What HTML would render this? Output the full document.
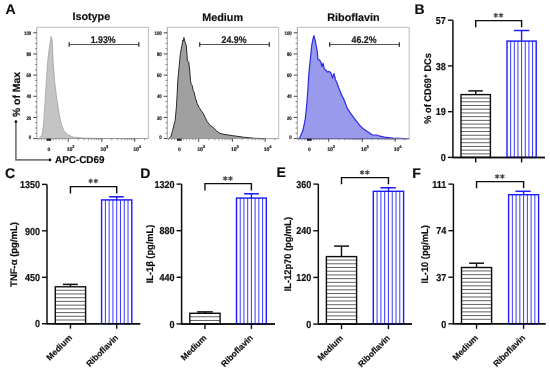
<!DOCTYPE html>
<html><head><meta charset="utf-8"><style>
html,body{margin:0;padding:0;background:#fff;}
svg{display:block;}
text{font-family:"Liberation Sans",sans-serif;font-weight:bold;stroke:#111;stroke-width:0.18px;text-rendering:geometricPrecision;}
svg{will-change:transform;}
</style></head><body>
<svg width="550" height="372" viewBox="0 0 550 372">
<defs><filter id="bl" x="0" y="0" width="100%" height="100%"><feGaussianBlur stdDeviation="0.4"/></filter></defs>
<rect width="550" height="372" fill="#fff"/>
<g filter="url(#bl)">
<text x="5.60" y="14.20" font-size="14" text-anchor="start" fill="#111" >A</text>
<text x="414.50" y="14.20" font-size="14" text-anchor="start" fill="#111" >B</text>
<text x="5.00" y="177.60" font-size="14" text-anchor="start" fill="#111" >C</text>
<text x="140.30" y="177.50" font-size="14" text-anchor="start" fill="#111" >D</text>
<text x="276.60" y="176.70" font-size="14" text-anchor="start" fill="#111" >E</text>
<text x="412.30" y="177.50" font-size="14" text-anchor="start" fill="#111" >F</text>
<text x="91.30" y="19.90" font-size="10.8" text-anchor="middle" fill="#111" >Isotype</text>
<path d="M38.4,138.6 L40.0,137.5 L42.0,135.0 L43.5,124.5 L45.0,103.0 L46.3,81.5 L47.8,60.0 L49.0,50.0 L50.0,43.0 L51.0,36.4 L52.2,40.0 L52.7,48.0 L53.0,60.0 L54.7,81.5 L56.0,93.0 L57.5,103.0 L59.2,113.8 L61.4,124.5 L64.0,131.0 L68.3,135.0 L73.6,137.2 L85.0,138.1 L100.0,138.4 L120.0,138.5 L140.0,138.6 Z" fill="#c4c4c4" stroke="none"/>
<path d="M38.4,138.6 L40.0,137.5 L42.0,135.0 L43.5,124.5 L45.0,103.0 L46.3,81.5 L47.8,60.0 L49.0,50.0 L50.0,43.0 L51.0,36.4 L52.2,40.0 L52.7,48.0 L53.0,60.0 L54.7,81.5 L56.0,93.0 L57.5,103.0 L59.2,113.8 L61.4,124.5 L64.0,131.0 L68.3,135.0 L73.6,137.2 L85.0,138.1 L100.0,138.4 L120.0,138.5 L140.0,138.6" fill="none" stroke="#9a9a9a" stroke-width="0.7" stroke-linejoin="round"/>
<polyline points="36.8,27.3 148.4,27.3 148.4,138.6" fill="none" stroke="#b4b4b4" stroke-width="0.9"/>
<line x1="36.8" y1="27.3" x2="36.8" y2="138.6" stroke="#8a8a8a" stroke-width="0.8"/>
<line x1="36.3" y1="138.6" x2="148.4" y2="138.6" stroke="#8a8a8a" stroke-width="0.8"/>
<line x1="33.199999999999996" y1="138.60" x2="36.8" y2="138.60" stroke="#333" stroke-width="0.9"/>
<text x="0.00" y="0.00" font-size="5.1" text-anchor="end" fill="#222" transform="translate(31.30,138.90) scale(0.86,1)">0</text>
<line x1="35.0" y1="133.31" x2="36.8" y2="133.31" stroke="#555" stroke-width="0.7"/>
<line x1="35.0" y1="128.02" x2="36.8" y2="128.02" stroke="#555" stroke-width="0.7"/>
<line x1="35.0" y1="122.73" x2="36.8" y2="122.73" stroke="#555" stroke-width="0.7"/>
<line x1="33.199999999999996" y1="117.44" x2="36.8" y2="117.44" stroke="#333" stroke-width="0.9"/>
<text x="0.00" y="0.00" font-size="5.1" text-anchor="end" fill="#222" transform="translate(31.30,119.54) scale(0.86,1)">20</text>
<line x1="35.0" y1="112.15" x2="36.8" y2="112.15" stroke="#555" stroke-width="0.7"/>
<line x1="35.0" y1="106.86" x2="36.8" y2="106.86" stroke="#555" stroke-width="0.7"/>
<line x1="35.0" y1="101.57" x2="36.8" y2="101.57" stroke="#555" stroke-width="0.7"/>
<line x1="33.199999999999996" y1="96.28" x2="36.8" y2="96.28" stroke="#333" stroke-width="0.9"/>
<text x="0.00" y="0.00" font-size="5.1" text-anchor="end" fill="#222" transform="translate(31.30,98.38) scale(0.86,1)">40</text>
<line x1="35.0" y1="90.99" x2="36.8" y2="90.99" stroke="#555" stroke-width="0.7"/>
<line x1="35.0" y1="85.70" x2="36.8" y2="85.70" stroke="#555" stroke-width="0.7"/>
<line x1="35.0" y1="80.41" x2="36.8" y2="80.41" stroke="#555" stroke-width="0.7"/>
<line x1="33.199999999999996" y1="75.12" x2="36.8" y2="75.12" stroke="#333" stroke-width="0.9"/>
<text x="0.00" y="0.00" font-size="5.1" text-anchor="end" fill="#222" transform="translate(31.30,77.22) scale(0.86,1)">60</text>
<line x1="35.0" y1="69.83" x2="36.8" y2="69.83" stroke="#555" stroke-width="0.7"/>
<line x1="35.0" y1="64.54" x2="36.8" y2="64.54" stroke="#555" stroke-width="0.7"/>
<line x1="35.0" y1="59.25" x2="36.8" y2="59.25" stroke="#555" stroke-width="0.7"/>
<line x1="33.199999999999996" y1="53.96" x2="36.8" y2="53.96" stroke="#333" stroke-width="0.9"/>
<text x="0.00" y="0.00" font-size="5.1" text-anchor="end" fill="#222" transform="translate(31.30,56.06) scale(0.86,1)">80</text>
<line x1="35.0" y1="48.67" x2="36.8" y2="48.67" stroke="#555" stroke-width="0.7"/>
<line x1="35.0" y1="43.38" x2="36.8" y2="43.38" stroke="#555" stroke-width="0.7"/>
<line x1="35.0" y1="38.09" x2="36.8" y2="38.09" stroke="#555" stroke-width="0.7"/>
<line x1="33.199999999999996" y1="32.80" x2="36.8" y2="32.80" stroke="#333" stroke-width="0.9"/>
<text x="0.00" y="0.00" font-size="5.1" text-anchor="end" fill="#222" transform="translate(31.30,34.90) scale(0.86,1)">100</text>
<line x1="68.20" y1="138.6" x2="68.20" y2="141.79999999999998" stroke="#333" stroke-width="0.9"/>
<line x1="101.90" y1="138.6" x2="101.90" y2="141.79999999999998" stroke="#333" stroke-width="0.9"/>
<line x1="134.70" y1="138.6" x2="134.70" y2="141.79999999999998" stroke="#333" stroke-width="0.9"/>
<line x1="78.34" y1="138.6" x2="78.34" y2="140.2" stroke="#555" stroke-width="0.6"/>
<line x1="84.28" y1="138.6" x2="84.28" y2="140.2" stroke="#555" stroke-width="0.6"/>
<line x1="88.49" y1="138.6" x2="88.49" y2="140.2" stroke="#555" stroke-width="0.6"/>
<line x1="91.76" y1="138.6" x2="91.76" y2="140.2" stroke="#555" stroke-width="0.6"/>
<line x1="94.42" y1="138.6" x2="94.42" y2="140.2" stroke="#555" stroke-width="0.6"/>
<line x1="96.68" y1="138.6" x2="96.68" y2="140.2" stroke="#555" stroke-width="0.6"/>
<line x1="98.63" y1="138.6" x2="98.63" y2="140.2" stroke="#555" stroke-width="0.6"/>
<line x1="100.36" y1="138.6" x2="100.36" y2="140.2" stroke="#555" stroke-width="0.6"/>
<line x1="111.77" y1="138.6" x2="111.77" y2="140.2" stroke="#555" stroke-width="0.6"/>
<line x1="117.55" y1="138.6" x2="117.55" y2="140.2" stroke="#555" stroke-width="0.6"/>
<line x1="121.65" y1="138.6" x2="121.65" y2="140.2" stroke="#555" stroke-width="0.6"/>
<line x1="124.83" y1="138.6" x2="124.83" y2="140.2" stroke="#555" stroke-width="0.6"/>
<line x1="127.42" y1="138.6" x2="127.42" y2="140.2" stroke="#555" stroke-width="0.6"/>
<line x1="129.62" y1="138.6" x2="129.62" y2="140.2" stroke="#555" stroke-width="0.6"/>
<line x1="131.52" y1="138.6" x2="131.52" y2="140.2" stroke="#555" stroke-width="0.6"/>
<line x1="133.20" y1="138.6" x2="133.20" y2="140.2" stroke="#555" stroke-width="0.6"/>
<line x1="144.57" y1="138.6" x2="144.57" y2="140.2" stroke="#555" stroke-width="0.6"/>
<line x1="38.20" y1="138.6" x2="38.20" y2="140.2" stroke="#555" stroke-width="0.6"/>
<line x1="41.40" y1="138.6" x2="41.40" y2="140.2" stroke="#555" stroke-width="0.6"/>
<line x1="44.20" y1="138.6" x2="44.20" y2="140.2" stroke="#555" stroke-width="0.6"/>
<line x1="53.20" y1="138.6" x2="53.20" y2="140.2" stroke="#555" stroke-width="0.6"/>
<line x1="56.00" y1="138.6" x2="56.00" y2="140.2" stroke="#555" stroke-width="0.6"/>
<line x1="59.20" y1="138.6" x2="59.20" y2="140.2" stroke="#555" stroke-width="0.6"/>
<line x1="62.40" y1="138.6" x2="62.40" y2="140.2" stroke="#555" stroke-width="0.6"/>
<line x1="65.20" y1="138.6" x2="65.20" y2="140.2" stroke="#555" stroke-width="0.6"/>
<rect x="46.40" y="138.6" width="4.8" height="2.2" fill="#222"/>
<text x="49.00" y="151.00" font-size="5" text-anchor="middle" fill="#222" >0</text>
<text x="69.60" y="151.00" font-size="5.2" text-anchor="middle" fill="#222" >10</text>
<text x="72.30" y="148.20" font-size="4.0" text-anchor="start" fill="#222" >2</text>
<text x="103.30" y="151.00" font-size="5.2" text-anchor="middle" fill="#222" >10</text>
<text x="106.00" y="148.20" font-size="4.0" text-anchor="start" fill="#222" >3</text>
<text x="136.10" y="151.00" font-size="5.2" text-anchor="middle" fill="#222" >10</text>
<text x="138.80" y="148.20" font-size="4.0" text-anchor="start" fill="#222" >4</text>
<line x1="69.20" y1="44.5" x2="138.80" y2="44.5" stroke="#555" stroke-width="1.15"/>
<line x1="69.20" y1="42.3" x2="69.20" y2="46.7" stroke="#333" stroke-width="1.3"/>
<line x1="138.80" y1="42.3" x2="138.80" y2="46.7" stroke="#333" stroke-width="1.3"/>
<text x="0.00" y="0.00" font-size="9.8" text-anchor="middle" fill="#222" transform="translate(103.20,42.9) scale(0.9,1)">1.93%</text>
<text x="222.60" y="20.90" font-size="10.8" text-anchor="middle" fill="#111" >Medium</text>
<path d="M169.0,138.6 L170.9,136.3 L172.4,131.4 L175.1,120.6 L176.4,107.2 L177.2,93.8 L177.8,80.3 L179.1,66.9 L180.4,53.4 L182.0,45.0 L182.9,40.0 L183.4,41.0 L183.9,37.5 L185.0,42.0 L186.3,45.5 L187.0,55.0 L187.4,61.0 L188.8,62.0 L189.0,65.0 L189.7,70.1 L190.5,80.2 L191.1,84.2 L192.1,85.2 L193.1,90.2 L194.1,92.3 L195.5,98.3 L197.1,103.3 L199.1,107.4 L201.1,110.4 L203.2,113.4 L205.2,117.5 L207.2,121.5 L210.2,125.5 L213.2,127.5 L216.3,130.6 L219.3,133.0 L223.0,134.2 L232.5,135.6 L243.4,137.2 L254.3,138.3 L265.0,138.6 Z" fill="#a0a0a0" stroke="none"/>
<path d="M169.0,138.6 L170.9,136.3 L172.4,131.4 L175.1,120.6 L176.4,107.2 L177.2,93.8 L177.8,80.3 L179.1,66.9 L180.4,53.4 L182.0,45.0 L182.9,40.0 L183.4,41.0 L183.9,37.5 L185.0,42.0 L186.3,45.5 L187.0,55.0 L187.4,61.0 L188.8,62.0 L189.0,65.0 L189.7,70.1 L190.5,80.2 L191.1,84.2 L192.1,85.2 L193.1,90.2 L194.1,92.3 L195.5,98.3 L197.1,103.3 L199.1,107.4 L201.1,110.4 L203.2,113.4 L205.2,117.5 L207.2,121.5 L210.2,125.5 L213.2,127.5 L216.3,130.6 L219.3,133.0 L223.0,134.2 L232.5,135.6 L243.4,137.2 L254.3,138.3 L265.0,138.6" fill="none" stroke="#2a2a2a" stroke-width="1.0" stroke-linejoin="round"/>
<polyline points="167.3,27.3 278.7,27.3 278.7,138.6" fill="none" stroke="#b4b4b4" stroke-width="0.9"/>
<line x1="167.3" y1="27.3" x2="167.3" y2="138.6" stroke="#8a8a8a" stroke-width="0.8"/>
<line x1="166.8" y1="138.6" x2="278.7" y2="138.6" stroke="#8a8a8a" stroke-width="0.8"/>
<line x1="163.70000000000002" y1="138.60" x2="167.3" y2="138.60" stroke="#333" stroke-width="0.9"/>
<text x="0.00" y="0.00" font-size="5.1" text-anchor="end" fill="#222" transform="translate(161.80,138.90) scale(0.86,1)">0</text>
<line x1="165.5" y1="133.31" x2="167.3" y2="133.31" stroke="#555" stroke-width="0.7"/>
<line x1="165.5" y1="128.02" x2="167.3" y2="128.02" stroke="#555" stroke-width="0.7"/>
<line x1="165.5" y1="122.73" x2="167.3" y2="122.73" stroke="#555" stroke-width="0.7"/>
<line x1="163.70000000000002" y1="117.44" x2="167.3" y2="117.44" stroke="#333" stroke-width="0.9"/>
<text x="0.00" y="0.00" font-size="5.1" text-anchor="end" fill="#222" transform="translate(161.80,119.54) scale(0.86,1)">20</text>
<line x1="165.5" y1="112.15" x2="167.3" y2="112.15" stroke="#555" stroke-width="0.7"/>
<line x1="165.5" y1="106.86" x2="167.3" y2="106.86" stroke="#555" stroke-width="0.7"/>
<line x1="165.5" y1="101.57" x2="167.3" y2="101.57" stroke="#555" stroke-width="0.7"/>
<line x1="163.70000000000002" y1="96.28" x2="167.3" y2="96.28" stroke="#333" stroke-width="0.9"/>
<text x="0.00" y="0.00" font-size="5.1" text-anchor="end" fill="#222" transform="translate(161.80,98.38) scale(0.86,1)">40</text>
<line x1="165.5" y1="90.99" x2="167.3" y2="90.99" stroke="#555" stroke-width="0.7"/>
<line x1="165.5" y1="85.70" x2="167.3" y2="85.70" stroke="#555" stroke-width="0.7"/>
<line x1="165.5" y1="80.41" x2="167.3" y2="80.41" stroke="#555" stroke-width="0.7"/>
<line x1="163.70000000000002" y1="75.12" x2="167.3" y2="75.12" stroke="#333" stroke-width="0.9"/>
<text x="0.00" y="0.00" font-size="5.1" text-anchor="end" fill="#222" transform="translate(161.80,77.22) scale(0.86,1)">60</text>
<line x1="165.5" y1="69.83" x2="167.3" y2="69.83" stroke="#555" stroke-width="0.7"/>
<line x1="165.5" y1="64.54" x2="167.3" y2="64.54" stroke="#555" stroke-width="0.7"/>
<line x1="165.5" y1="59.25" x2="167.3" y2="59.25" stroke="#555" stroke-width="0.7"/>
<line x1="163.70000000000002" y1="53.96" x2="167.3" y2="53.96" stroke="#333" stroke-width="0.9"/>
<text x="0.00" y="0.00" font-size="5.1" text-anchor="end" fill="#222" transform="translate(161.80,56.06) scale(0.86,1)">80</text>
<line x1="165.5" y1="48.67" x2="167.3" y2="48.67" stroke="#555" stroke-width="0.7"/>
<line x1="165.5" y1="43.38" x2="167.3" y2="43.38" stroke="#555" stroke-width="0.7"/>
<line x1="165.5" y1="38.09" x2="167.3" y2="38.09" stroke="#555" stroke-width="0.7"/>
<line x1="163.70000000000002" y1="32.80" x2="167.3" y2="32.80" stroke="#333" stroke-width="0.9"/>
<text x="0.00" y="0.00" font-size="5.1" text-anchor="end" fill="#222" transform="translate(161.80,34.90) scale(0.86,1)">100</text>
<line x1="198.70" y1="138.6" x2="198.70" y2="141.79999999999998" stroke="#333" stroke-width="0.9"/>
<line x1="232.40" y1="138.6" x2="232.40" y2="141.79999999999998" stroke="#333" stroke-width="0.9"/>
<line x1="265.20" y1="138.6" x2="265.20" y2="141.79999999999998" stroke="#333" stroke-width="0.9"/>
<line x1="208.84" y1="138.6" x2="208.84" y2="140.2" stroke="#555" stroke-width="0.6"/>
<line x1="214.78" y1="138.6" x2="214.78" y2="140.2" stroke="#555" stroke-width="0.6"/>
<line x1="218.99" y1="138.6" x2="218.99" y2="140.2" stroke="#555" stroke-width="0.6"/>
<line x1="222.26" y1="138.6" x2="222.26" y2="140.2" stroke="#555" stroke-width="0.6"/>
<line x1="224.92" y1="138.6" x2="224.92" y2="140.2" stroke="#555" stroke-width="0.6"/>
<line x1="227.18" y1="138.6" x2="227.18" y2="140.2" stroke="#555" stroke-width="0.6"/>
<line x1="229.13" y1="138.6" x2="229.13" y2="140.2" stroke="#555" stroke-width="0.6"/>
<line x1="230.86" y1="138.6" x2="230.86" y2="140.2" stroke="#555" stroke-width="0.6"/>
<line x1="242.27" y1="138.6" x2="242.27" y2="140.2" stroke="#555" stroke-width="0.6"/>
<line x1="248.05" y1="138.6" x2="248.05" y2="140.2" stroke="#555" stroke-width="0.6"/>
<line x1="252.15" y1="138.6" x2="252.15" y2="140.2" stroke="#555" stroke-width="0.6"/>
<line x1="255.33" y1="138.6" x2="255.33" y2="140.2" stroke="#555" stroke-width="0.6"/>
<line x1="257.92" y1="138.6" x2="257.92" y2="140.2" stroke="#555" stroke-width="0.6"/>
<line x1="260.12" y1="138.6" x2="260.12" y2="140.2" stroke="#555" stroke-width="0.6"/>
<line x1="262.02" y1="138.6" x2="262.02" y2="140.2" stroke="#555" stroke-width="0.6"/>
<line x1="263.70" y1="138.6" x2="263.70" y2="140.2" stroke="#555" stroke-width="0.6"/>
<line x1="275.07" y1="138.6" x2="275.07" y2="140.2" stroke="#555" stroke-width="0.6"/>
<line x1="168.70" y1="138.6" x2="168.70" y2="140.2" stroke="#555" stroke-width="0.6"/>
<line x1="171.90" y1="138.6" x2="171.90" y2="140.2" stroke="#555" stroke-width="0.6"/>
<line x1="174.70" y1="138.6" x2="174.70" y2="140.2" stroke="#555" stroke-width="0.6"/>
<line x1="183.70" y1="138.6" x2="183.70" y2="140.2" stroke="#555" stroke-width="0.6"/>
<line x1="186.50" y1="138.6" x2="186.50" y2="140.2" stroke="#555" stroke-width="0.6"/>
<line x1="189.70" y1="138.6" x2="189.70" y2="140.2" stroke="#555" stroke-width="0.6"/>
<line x1="192.90" y1="138.6" x2="192.90" y2="140.2" stroke="#555" stroke-width="0.6"/>
<line x1="195.70" y1="138.6" x2="195.70" y2="140.2" stroke="#555" stroke-width="0.6"/>
<rect x="176.90" y="138.6" width="4.8" height="2.2" fill="#222"/>
<text x="179.50" y="151.00" font-size="5" text-anchor="middle" fill="#222" >0</text>
<text x="200.10" y="151.00" font-size="5.2" text-anchor="middle" fill="#222" >10</text>
<text x="202.80" y="148.20" font-size="4.0" text-anchor="start" fill="#222" >2</text>
<text x="233.80" y="151.00" font-size="5.2" text-anchor="middle" fill="#222" >10</text>
<text x="236.50" y="148.20" font-size="4.0" text-anchor="start" fill="#222" >3</text>
<text x="266.60" y="151.00" font-size="5.2" text-anchor="middle" fill="#222" >10</text>
<text x="269.30" y="148.20" font-size="4.0" text-anchor="start" fill="#222" >4</text>
<line x1="199.70" y1="44.5" x2="269.30" y2="44.5" stroke="#555" stroke-width="1.15"/>
<line x1="199.70" y1="42.3" x2="199.70" y2="46.7" stroke="#333" stroke-width="1.3"/>
<line x1="269.30" y1="42.3" x2="269.30" y2="46.7" stroke="#333" stroke-width="1.3"/>
<text x="0.00" y="0.00" font-size="9.8" text-anchor="middle" fill="#222" transform="translate(234.00,42.9) scale(0.9,1)">24.9%</text>
<text x="353.40" y="20.90" font-size="10.8" text-anchor="middle" fill="#111" >Riboflavin</text>
<path d="M299.0,138.6 L300.3,136.5 L302.9,130.6 L305.3,118.8 L306.8,104.0 L307.9,89.2 L308.8,74.4 L310.3,59.6 L311.8,44.8 L313.0,39.0 L313.9,35.6 L315.3,41.0 L316.3,46.3 L317.2,51.2 L317.9,59.3 L319.6,60.1 L321.0,62.5 L322.0,66.5 L323.1,63.3 L324.2,68.7 L326.0,70.5 L327.6,72.2 L329.3,71.4 L330.9,73.0 L332.5,78.0 L334.0,73.5 L335.4,79.5 L336.8,82.5 L338.6,87.5 L340.2,91.5 L341.6,95.1 L343.0,97.5 L344.5,101.0 L347.3,108.4 L350.3,112.8 L354.7,118.8 L359.1,124.7 L363.6,129.1 L368.0,132.1 L372.4,135.0 L376.9,135.0 L380.0,136.2 L384.3,137.2 L393.0,138.2 L406.0,138.6 Z" fill="#9a9aec" stroke="none"/>
<path d="M299.0,138.6 L300.3,136.5 L302.9,130.6 L305.3,118.8 L306.8,104.0 L307.9,89.2 L308.8,74.4 L310.3,59.6 L311.8,44.8 L313.0,39.0 L313.9,35.6 L315.3,41.0 L316.3,46.3 L317.2,51.2 L317.9,59.3 L319.6,60.1 L321.0,62.5 L322.0,66.5 L323.1,63.3 L324.2,68.7 L326.0,70.5 L327.6,72.2 L329.3,71.4 L330.9,73.0 L332.5,78.0 L334.0,73.5 L335.4,79.5 L336.8,82.5 L338.6,87.5 L340.2,91.5 L341.6,95.1 L343.0,97.5 L344.5,101.0 L347.3,108.4 L350.3,112.8 L354.7,118.8 L359.1,124.7 L363.6,129.1 L368.0,132.1 L372.4,135.0 L376.9,135.0 L380.0,136.2 L384.3,137.2 L393.0,138.2 L406.0,138.6" fill="none" stroke="#2a2ae6" stroke-width="1.2" stroke-linejoin="round"/>
<line x1="297.3" y1="138.6" x2="409.2" y2="138.6" stroke="#2a2ae6" stroke-width="1.1"/>
<polyline points="297.3,27.3 409.2,27.3 409.2,138.6" fill="none" stroke="#b4b4b4" stroke-width="0.9"/>
<line x1="297.3" y1="27.3" x2="297.3" y2="138.6" stroke="#8a8a8a" stroke-width="0.8"/>
<line x1="296.8" y1="138.6" x2="409.2" y2="138.6" stroke="#8a8a8a" stroke-width="0.8"/>
<line x1="293.7" y1="138.60" x2="297.3" y2="138.60" stroke="#333" stroke-width="0.9"/>
<text x="0.00" y="0.00" font-size="5.1" text-anchor="end" fill="#222" transform="translate(291.80,138.90) scale(0.86,1)">0</text>
<line x1="295.5" y1="133.31" x2="297.3" y2="133.31" stroke="#555" stroke-width="0.7"/>
<line x1="295.5" y1="128.02" x2="297.3" y2="128.02" stroke="#555" stroke-width="0.7"/>
<line x1="295.5" y1="122.73" x2="297.3" y2="122.73" stroke="#555" stroke-width="0.7"/>
<line x1="293.7" y1="117.44" x2="297.3" y2="117.44" stroke="#333" stroke-width="0.9"/>
<text x="0.00" y="0.00" font-size="5.1" text-anchor="end" fill="#222" transform="translate(291.80,119.54) scale(0.86,1)">20</text>
<line x1="295.5" y1="112.15" x2="297.3" y2="112.15" stroke="#555" stroke-width="0.7"/>
<line x1="295.5" y1="106.86" x2="297.3" y2="106.86" stroke="#555" stroke-width="0.7"/>
<line x1="295.5" y1="101.57" x2="297.3" y2="101.57" stroke="#555" stroke-width="0.7"/>
<line x1="293.7" y1="96.28" x2="297.3" y2="96.28" stroke="#333" stroke-width="0.9"/>
<text x="0.00" y="0.00" font-size="5.1" text-anchor="end" fill="#222" transform="translate(291.80,98.38) scale(0.86,1)">40</text>
<line x1="295.5" y1="90.99" x2="297.3" y2="90.99" stroke="#555" stroke-width="0.7"/>
<line x1="295.5" y1="85.70" x2="297.3" y2="85.70" stroke="#555" stroke-width="0.7"/>
<line x1="295.5" y1="80.41" x2="297.3" y2="80.41" stroke="#555" stroke-width="0.7"/>
<line x1="293.7" y1="75.12" x2="297.3" y2="75.12" stroke="#333" stroke-width="0.9"/>
<text x="0.00" y="0.00" font-size="5.1" text-anchor="end" fill="#222" transform="translate(291.80,77.22) scale(0.86,1)">60</text>
<line x1="295.5" y1="69.83" x2="297.3" y2="69.83" stroke="#555" stroke-width="0.7"/>
<line x1="295.5" y1="64.54" x2="297.3" y2="64.54" stroke="#555" stroke-width="0.7"/>
<line x1="295.5" y1="59.25" x2="297.3" y2="59.25" stroke="#555" stroke-width="0.7"/>
<line x1="293.7" y1="53.96" x2="297.3" y2="53.96" stroke="#333" stroke-width="0.9"/>
<text x="0.00" y="0.00" font-size="5.1" text-anchor="end" fill="#222" transform="translate(291.80,56.06) scale(0.86,1)">80</text>
<line x1="295.5" y1="48.67" x2="297.3" y2="48.67" stroke="#555" stroke-width="0.7"/>
<line x1="295.5" y1="43.38" x2="297.3" y2="43.38" stroke="#555" stroke-width="0.7"/>
<line x1="295.5" y1="38.09" x2="297.3" y2="38.09" stroke="#555" stroke-width="0.7"/>
<line x1="293.7" y1="32.80" x2="297.3" y2="32.80" stroke="#333" stroke-width="0.9"/>
<text x="0.00" y="0.00" font-size="5.1" text-anchor="end" fill="#222" transform="translate(291.80,34.90) scale(0.86,1)">100</text>
<line x1="328.70" y1="138.6" x2="328.70" y2="141.79999999999998" stroke="#333" stroke-width="0.9"/>
<line x1="362.40" y1="138.6" x2="362.40" y2="141.79999999999998" stroke="#333" stroke-width="0.9"/>
<line x1="395.20" y1="138.6" x2="395.20" y2="141.79999999999998" stroke="#333" stroke-width="0.9"/>
<line x1="338.84" y1="138.6" x2="338.84" y2="140.2" stroke="#555" stroke-width="0.6"/>
<line x1="344.78" y1="138.6" x2="344.78" y2="140.2" stroke="#555" stroke-width="0.6"/>
<line x1="348.99" y1="138.6" x2="348.99" y2="140.2" stroke="#555" stroke-width="0.6"/>
<line x1="352.26" y1="138.6" x2="352.26" y2="140.2" stroke="#555" stroke-width="0.6"/>
<line x1="354.92" y1="138.6" x2="354.92" y2="140.2" stroke="#555" stroke-width="0.6"/>
<line x1="357.18" y1="138.6" x2="357.18" y2="140.2" stroke="#555" stroke-width="0.6"/>
<line x1="359.13" y1="138.6" x2="359.13" y2="140.2" stroke="#555" stroke-width="0.6"/>
<line x1="360.86" y1="138.6" x2="360.86" y2="140.2" stroke="#555" stroke-width="0.6"/>
<line x1="372.27" y1="138.6" x2="372.27" y2="140.2" stroke="#555" stroke-width="0.6"/>
<line x1="378.05" y1="138.6" x2="378.05" y2="140.2" stroke="#555" stroke-width="0.6"/>
<line x1="382.15" y1="138.6" x2="382.15" y2="140.2" stroke="#555" stroke-width="0.6"/>
<line x1="385.33" y1="138.6" x2="385.33" y2="140.2" stroke="#555" stroke-width="0.6"/>
<line x1="387.92" y1="138.6" x2="387.92" y2="140.2" stroke="#555" stroke-width="0.6"/>
<line x1="390.12" y1="138.6" x2="390.12" y2="140.2" stroke="#555" stroke-width="0.6"/>
<line x1="392.02" y1="138.6" x2="392.02" y2="140.2" stroke="#555" stroke-width="0.6"/>
<line x1="393.70" y1="138.6" x2="393.70" y2="140.2" stroke="#555" stroke-width="0.6"/>
<line x1="405.07" y1="138.6" x2="405.07" y2="140.2" stroke="#555" stroke-width="0.6"/>
<line x1="298.70" y1="138.6" x2="298.70" y2="140.2" stroke="#555" stroke-width="0.6"/>
<line x1="301.90" y1="138.6" x2="301.90" y2="140.2" stroke="#555" stroke-width="0.6"/>
<line x1="304.70" y1="138.6" x2="304.70" y2="140.2" stroke="#555" stroke-width="0.6"/>
<line x1="313.70" y1="138.6" x2="313.70" y2="140.2" stroke="#555" stroke-width="0.6"/>
<line x1="316.50" y1="138.6" x2="316.50" y2="140.2" stroke="#555" stroke-width="0.6"/>
<line x1="319.70" y1="138.6" x2="319.70" y2="140.2" stroke="#555" stroke-width="0.6"/>
<line x1="322.90" y1="138.6" x2="322.90" y2="140.2" stroke="#555" stroke-width="0.6"/>
<line x1="325.70" y1="138.6" x2="325.70" y2="140.2" stroke="#555" stroke-width="0.6"/>
<rect x="306.90" y="138.6" width="4.8" height="2.2" fill="#222"/>
<text x="309.50" y="151.00" font-size="5" text-anchor="middle" fill="#222" >0</text>
<text x="330.10" y="151.00" font-size="5.2" text-anchor="middle" fill="#222" >10</text>
<text x="332.80" y="148.20" font-size="4.0" text-anchor="start" fill="#222" >2</text>
<text x="363.80" y="151.00" font-size="5.2" text-anchor="middle" fill="#222" >10</text>
<text x="366.50" y="148.20" font-size="4.0" text-anchor="start" fill="#222" >3</text>
<text x="396.60" y="151.00" font-size="5.2" text-anchor="middle" fill="#222" >10</text>
<text x="399.30" y="148.20" font-size="4.0" text-anchor="start" fill="#222" >4</text>
<line x1="329.70" y1="44.5" x2="399.30" y2="44.5" stroke="#555" stroke-width="1.15"/>
<line x1="329.70" y1="42.3" x2="329.70" y2="46.7" stroke="#333" stroke-width="1.3"/>
<line x1="399.30" y1="42.3" x2="399.30" y2="46.7" stroke="#333" stroke-width="1.3"/>
<text x="0.00" y="0.00" font-size="9.8" text-anchor="middle" fill="#222" transform="translate(364.00,42.9) scale(0.9,1)">46.2%</text>
<polyline points="15.9,121.7 15.9,159.9 50.0,159.9" fill="none" stroke="#7a7a7a" stroke-width="1.7"/>
<circle cx="15.9" cy="121.7" r="1.35" fill="#111"/>
<circle cx="50.0" cy="159.9" r="1.35" fill="#111"/>
<text x="0.00" y="0.00" font-size="10.4" text-anchor="middle" fill="#111" transform="translate(20.0,94.5) rotate(-90)">% of Max</text>
<text x="55.00" y="163.00" font-size="9.9" text-anchor="start" fill="#111" >APC-CD69</text>
<polyline points="452.9,20.2 452.9,157.4 545.0,157.4" fill="none" stroke="#111" stroke-width="1.5"/>
<line x1="447.9" y1="157.40" x2="452.9" y2="157.40" stroke="#111" stroke-width="1.4"/>
<text x="0.00" y="0.00" font-size="9.5" text-anchor="end" fill="#111" transform="translate(445.90,161.10) scale(0.95,1.06)">0</text>
<line x1="447.9" y1="111.67" x2="452.9" y2="111.67" stroke="#111" stroke-width="1.4"/>
<text x="0.00" y="0.00" font-size="9.5" text-anchor="end" fill="#111" transform="translate(445.90,115.37) scale(0.95,1.06)">19</text>
<line x1="447.9" y1="65.93" x2="452.9" y2="65.93" stroke="#111" stroke-width="1.4"/>
<text x="0.00" y="0.00" font-size="9.5" text-anchor="end" fill="#111" transform="translate(445.90,69.63) scale(0.95,1.06)">38</text>
<line x1="447.9" y1="20.20" x2="452.9" y2="20.20" stroke="#111" stroke-width="1.4"/>
<text x="0.00" y="0.00" font-size="9.5" text-anchor="end" fill="#111" transform="translate(445.90,23.90) scale(0.95,1.06)">57</text>
<line x1="475.70" y1="157.4" x2="475.70" y2="162.4" stroke="#111" stroke-width="1.4"/>
<line x1="521.60" y1="157.4" x2="521.60" y2="162.4" stroke="#111" stroke-width="1.4"/>
<line x1="461.00" y1="98.05" x2="490.40" y2="98.05" stroke="#5a5a5a" stroke-width="0.95"/>
<line x1="461.00" y1="101.77" x2="490.40" y2="101.77" stroke="#5a5a5a" stroke-width="0.95"/>
<line x1="461.00" y1="105.49" x2="490.40" y2="105.49" stroke="#5a5a5a" stroke-width="0.95"/>
<line x1="461.00" y1="109.21" x2="490.40" y2="109.21" stroke="#5a5a5a" stroke-width="0.95"/>
<line x1="461.00" y1="112.93" x2="490.40" y2="112.93" stroke="#5a5a5a" stroke-width="0.95"/>
<line x1="461.00" y1="116.65" x2="490.40" y2="116.65" stroke="#5a5a5a" stroke-width="0.95"/>
<line x1="461.00" y1="120.37" x2="490.40" y2="120.37" stroke="#5a5a5a" stroke-width="0.95"/>
<line x1="461.00" y1="124.09" x2="490.40" y2="124.09" stroke="#5a5a5a" stroke-width="0.95"/>
<line x1="461.00" y1="127.81" x2="490.40" y2="127.81" stroke="#5a5a5a" stroke-width="0.95"/>
<line x1="461.00" y1="131.53" x2="490.40" y2="131.53" stroke="#5a5a5a" stroke-width="0.95"/>
<line x1="461.00" y1="135.25" x2="490.40" y2="135.25" stroke="#5a5a5a" stroke-width="0.95"/>
<line x1="461.00" y1="138.97" x2="490.40" y2="138.97" stroke="#5a5a5a" stroke-width="0.95"/>
<line x1="461.00" y1="142.69" x2="490.40" y2="142.69" stroke="#5a5a5a" stroke-width="0.95"/>
<line x1="461.00" y1="146.41" x2="490.40" y2="146.41" stroke="#5a5a5a" stroke-width="0.95"/>
<line x1="461.00" y1="150.13" x2="490.40" y2="150.13" stroke="#5a5a5a" stroke-width="0.95"/>
<line x1="461.00" y1="153.85" x2="490.40" y2="153.85" stroke="#5a5a5a" stroke-width="0.95"/>
<rect x="461.00" y="94.60" width="29.40" height="62.80" fill="none" stroke="#111" stroke-width="1.4"/>
<line x1="475.70" y1="94.60" x2="475.70" y2="90.90" stroke="#111" stroke-width="1.4"/>
<line x1="468.30" y1="90.90" x2="482.80" y2="90.90" stroke="#111" stroke-width="1.5"/>
<line x1="510.65" y1="41.10" x2="510.65" y2="157.40" stroke="#3a3aff" stroke-width="1.0"/>
<line x1="514.30" y1="41.10" x2="514.30" y2="157.40" stroke="#3a3aff" stroke-width="1.0"/>
<line x1="517.95" y1="41.10" x2="517.95" y2="157.40" stroke="#3a3aff" stroke-width="1.0"/>
<line x1="521.60" y1="41.10" x2="521.60" y2="157.40" stroke="#3a3aff" stroke-width="1.0"/>
<line x1="525.25" y1="41.10" x2="525.25" y2="157.40" stroke="#3a3aff" stroke-width="1.0"/>
<line x1="528.90" y1="41.10" x2="528.90" y2="157.40" stroke="#3a3aff" stroke-width="1.0"/>
<line x1="532.55" y1="41.10" x2="532.55" y2="157.40" stroke="#3a3aff" stroke-width="1.0"/>
<rect x="507.00" y="41.10" width="29.20" height="116.30" fill="none" stroke="#1a1aff" stroke-width="1.4"/>
<line x1="521.60" y1="41.10" x2="521.60" y2="30.50" stroke="#1a1aff" stroke-width="1.4"/>
<line x1="514.00" y1="30.50" x2="529.30" y2="30.50" stroke="#1a1aff" stroke-width="1.5"/>
<line x1="452.9" y1="157.4" x2="545.0" y2="157.4" stroke="#111" stroke-width="1.5"/>
<polyline points="475.70,27.30 475.70,20.60 521.60,20.60 521.60,27.30" fill="none" stroke="#111" stroke-width="1.4"/>
<path d="M495.75,13.45 L495.75,17.15 M494.15,14.38 L497.35,16.23 M494.15,16.23 L497.35,14.38 " stroke="#4a4a4a" stroke-width="1.2" stroke-linecap="round" fill="none"/>
<path d="M500.95,13.45 L500.95,17.15 M499.35,14.38 L502.55,16.23 M499.35,16.23 L502.55,14.38 " stroke="#4a4a4a" stroke-width="1.2" stroke-linecap="round" fill="none"/>
<text x="0.00" y="0.00" font-size="9.7" text-anchor="middle" fill="#111" transform="translate(431.30,88.40) rotate(-90)" textLength="70.5" lengthAdjust="spacingAndGlyphs">% of CD69<tspan font-size="7" dy="-3.4">+</tspan><tspan dy="3.4"> DCs</tspan></text>
<polyline points="47.0,184.4 47.0,323.7 140.2,323.7" fill="none" stroke="#111" stroke-width="1.5"/>
<line x1="42.0" y1="323.70" x2="47.0" y2="323.70" stroke="#111" stroke-width="1.4"/>
<text x="0.00" y="0.00" font-size="9.5" text-anchor="end" fill="#111" transform="translate(40.00,327.40) scale(0.95,1.06)">0</text>
<line x1="42.0" y1="277.27" x2="47.0" y2="277.27" stroke="#111" stroke-width="1.4"/>
<text x="0.00" y="0.00" font-size="9.5" text-anchor="end" fill="#111" transform="translate(40.00,280.97) scale(0.95,1.06)">450</text>
<line x1="42.0" y1="230.83" x2="47.0" y2="230.83" stroke="#111" stroke-width="1.4"/>
<text x="0.00" y="0.00" font-size="9.5" text-anchor="end" fill="#111" transform="translate(40.00,234.53) scale(0.95,1.06)">900</text>
<line x1="42.0" y1="184.40" x2="47.0" y2="184.40" stroke="#111" stroke-width="1.4"/>
<text x="0.00" y="0.00" font-size="9.5" text-anchor="end" fill="#111" transform="translate(40.00,188.10) scale(0.95,1.06)">1350</text>
<line x1="70.45" y1="323.7" x2="70.45" y2="328.7" stroke="#111" stroke-width="1.4"/>
<line x1="116.70" y1="323.7" x2="116.70" y2="328.7" stroke="#111" stroke-width="1.4"/>
<line x1="55.30" y1="290.25" x2="85.60" y2="290.25" stroke="#5a5a5a" stroke-width="0.95"/>
<line x1="55.30" y1="293.97" x2="85.60" y2="293.97" stroke="#5a5a5a" stroke-width="0.95"/>
<line x1="55.30" y1="297.69" x2="85.60" y2="297.69" stroke="#5a5a5a" stroke-width="0.95"/>
<line x1="55.30" y1="301.41" x2="85.60" y2="301.41" stroke="#5a5a5a" stroke-width="0.95"/>
<line x1="55.30" y1="305.13" x2="85.60" y2="305.13" stroke="#5a5a5a" stroke-width="0.95"/>
<line x1="55.30" y1="308.85" x2="85.60" y2="308.85" stroke="#5a5a5a" stroke-width="0.95"/>
<line x1="55.30" y1="312.57" x2="85.60" y2="312.57" stroke="#5a5a5a" stroke-width="0.95"/>
<line x1="55.30" y1="316.29" x2="85.60" y2="316.29" stroke="#5a5a5a" stroke-width="0.95"/>
<line x1="55.30" y1="320.01" x2="85.60" y2="320.01" stroke="#5a5a5a" stroke-width="0.95"/>
<rect x="55.30" y="286.80" width="30.30" height="36.90" fill="none" stroke="#111" stroke-width="1.4"/>
<line x1="70.45" y1="286.80" x2="70.45" y2="284.40" stroke="#111" stroke-width="1.4"/>
<line x1="62.90" y1="284.40" x2="77.80" y2="284.40" stroke="#111" stroke-width="1.5"/>
<line x1="105.38" y1="199.90" x2="105.38" y2="323.70" stroke="#3a3aff" stroke-width="1.0"/>
<line x1="109.15" y1="199.90" x2="109.15" y2="323.70" stroke="#3a3aff" stroke-width="1.0"/>
<line x1="112.92" y1="199.90" x2="112.92" y2="323.70" stroke="#3a3aff" stroke-width="1.0"/>
<line x1="116.70" y1="199.90" x2="116.70" y2="323.70" stroke="#3a3aff" stroke-width="1.0"/>
<line x1="120.48" y1="199.90" x2="120.48" y2="323.70" stroke="#3a3aff" stroke-width="1.0"/>
<line x1="124.25" y1="199.90" x2="124.25" y2="323.70" stroke="#3a3aff" stroke-width="1.0"/>
<line x1="128.03" y1="199.90" x2="128.03" y2="323.70" stroke="#3a3aff" stroke-width="1.0"/>
<rect x="101.60" y="199.90" width="30.20" height="123.80" fill="none" stroke="#1a1aff" stroke-width="1.4"/>
<line x1="116.70" y1="199.90" x2="116.70" y2="196.80" stroke="#1a1aff" stroke-width="1.4"/>
<line x1="109.10" y1="196.80" x2="123.80" y2="196.80" stroke="#1a1aff" stroke-width="1.5"/>
<line x1="47.0" y1="323.7" x2="140.2" y2="323.7" stroke="#111" stroke-width="1.5"/>
<polyline points="70.45,193.40 70.45,186.60 116.70,186.60 116.70,193.40" fill="none" stroke="#111" stroke-width="1.4"/>
<path d="M90.67,179.15 L90.67,182.85 M89.07,180.07 L92.28,181.93 M89.07,181.93 L92.28,180.07 " stroke="#4a4a4a" stroke-width="1.2" stroke-linecap="round" fill="none"/>
<path d="M95.87,179.15 L95.87,182.85 M94.27,180.07 L97.48,181.93 M94.27,181.93 L97.48,180.07 " stroke="#4a4a4a" stroke-width="1.2" stroke-linecap="round" fill="none"/>
<text x="0.00" y="0.00" font-size="9.6" text-anchor="middle" fill="#111" transform="translate(16.70,254.50) rotate(-90)" textLength="64.8" lengthAdjust="spacingAndGlyphs">TNF-α (pg/mL)</text>
<text x="0.00" y="0.00" font-size="8.5" text-anchor="end" fill="#111" transform="translate(72.55,338.20) rotate(-45)">Medium</text>
<text x="0.00" y="0.00" font-size="8.5" text-anchor="end" fill="#111" transform="translate(118.80,338.20) rotate(-45)">Riboflavin</text>
<polyline points="181.6,184.1 181.6,323.9 275.0,323.9" fill="none" stroke="#111" stroke-width="1.5"/>
<line x1="176.6" y1="323.90" x2="181.6" y2="323.90" stroke="#111" stroke-width="1.4"/>
<text x="0.00" y="0.00" font-size="9.5" text-anchor="end" fill="#111" transform="translate(174.60,327.60) scale(0.95,1.06)">0</text>
<line x1="176.6" y1="277.30" x2="181.6" y2="277.30" stroke="#111" stroke-width="1.4"/>
<text x="0.00" y="0.00" font-size="9.5" text-anchor="end" fill="#111" transform="translate(174.60,281.00) scale(0.95,1.06)">440</text>
<line x1="176.6" y1="230.70" x2="181.6" y2="230.70" stroke="#111" stroke-width="1.4"/>
<text x="0.00" y="0.00" font-size="9.5" text-anchor="end" fill="#111" transform="translate(174.60,234.40) scale(0.95,1.06)">880</text>
<line x1="176.6" y1="184.10" x2="181.6" y2="184.10" stroke="#111" stroke-width="1.4"/>
<text x="0.00" y="0.00" font-size="9.5" text-anchor="end" fill="#111" transform="translate(174.60,187.80) scale(0.95,1.06)">1320</text>
<line x1="204.95" y1="323.9" x2="204.95" y2="328.9" stroke="#111" stroke-width="1.4"/>
<line x1="251.40" y1="323.9" x2="251.40" y2="328.9" stroke="#111" stroke-width="1.4"/>
<line x1="189.80" y1="316.75" x2="220.10" y2="316.75" stroke="#5a5a5a" stroke-width="0.95"/>
<line x1="189.80" y1="320.47" x2="220.10" y2="320.47" stroke="#5a5a5a" stroke-width="0.95"/>
<rect x="189.80" y="313.30" width="30.30" height="10.60" fill="none" stroke="#111" stroke-width="1.4"/>
<line x1="204.95" y1="313.30" x2="204.95" y2="311.90" stroke="#111" stroke-width="1.4"/>
<line x1="197.10" y1="311.90" x2="212.80" y2="311.90" stroke="#111" stroke-width="1.5"/>
<line x1="240.22" y1="198.10" x2="240.22" y2="323.90" stroke="#3a3aff" stroke-width="1.0"/>
<line x1="243.95" y1="198.10" x2="243.95" y2="323.90" stroke="#3a3aff" stroke-width="1.0"/>
<line x1="247.68" y1="198.10" x2="247.68" y2="323.90" stroke="#3a3aff" stroke-width="1.0"/>
<line x1="251.40" y1="198.10" x2="251.40" y2="323.90" stroke="#3a3aff" stroke-width="1.0"/>
<line x1="255.12" y1="198.10" x2="255.12" y2="323.90" stroke="#3a3aff" stroke-width="1.0"/>
<line x1="258.85" y1="198.10" x2="258.85" y2="323.90" stroke="#3a3aff" stroke-width="1.0"/>
<line x1="262.57" y1="198.10" x2="262.57" y2="323.90" stroke="#3a3aff" stroke-width="1.0"/>
<rect x="236.50" y="198.10" width="29.80" height="125.80" fill="none" stroke="#1a1aff" stroke-width="1.4"/>
<line x1="251.40" y1="198.10" x2="251.40" y2="193.80" stroke="#1a1aff" stroke-width="1.4"/>
<line x1="244.10" y1="193.80" x2="258.80" y2="193.80" stroke="#1a1aff" stroke-width="1.5"/>
<line x1="181.6" y1="323.9" x2="275.0" y2="323.9" stroke="#111" stroke-width="1.5"/>
<polyline points="204.95,190.60 204.95,183.60 251.40,183.60 251.40,190.60" fill="none" stroke="#111" stroke-width="1.4"/>
<path d="M225.28,176.55 L225.28,180.25 M223.67,177.47 L226.88,179.33 M223.67,179.33 L226.88,177.47 " stroke="#4a4a4a" stroke-width="1.2" stroke-linecap="round" fill="none"/>
<path d="M230.48,176.55 L230.48,180.25 M228.87,177.47 L232.08,179.33 M228.87,179.33 L232.08,177.47 " stroke="#4a4a4a" stroke-width="1.2" stroke-linecap="round" fill="none"/>
<text x="0.00" y="0.00" font-size="9.6" text-anchor="middle" fill="#111" transform="translate(152.90,254.00) rotate(-90)" textLength="58.6" lengthAdjust="spacingAndGlyphs">IL-1β (pg/mL)</text>
<text x="0.00" y="0.00" font-size="8.5" text-anchor="end" fill="#111" transform="translate(207.05,338.40) rotate(-45)">Medium</text>
<text x="0.00" y="0.00" font-size="8.5" text-anchor="end" fill="#111" transform="translate(253.50,338.40) rotate(-45)">Riboflavin</text>
<polyline points="318.3,184.1 318.3,324.1 412.0,324.1" fill="none" stroke="#111" stroke-width="1.5"/>
<line x1="313.3" y1="324.10" x2="318.3" y2="324.10" stroke="#111" stroke-width="1.4"/>
<text x="0.00" y="0.00" font-size="9.5" text-anchor="end" fill="#111" transform="translate(311.30,327.80) scale(0.95,1.06)">0</text>
<line x1="313.3" y1="277.43" x2="318.3" y2="277.43" stroke="#111" stroke-width="1.4"/>
<text x="0.00" y="0.00" font-size="9.5" text-anchor="end" fill="#111" transform="translate(311.30,281.13) scale(0.95,1.06)">120</text>
<line x1="313.3" y1="230.77" x2="318.3" y2="230.77" stroke="#111" stroke-width="1.4"/>
<text x="0.00" y="0.00" font-size="9.5" text-anchor="end" fill="#111" transform="translate(311.30,234.47) scale(0.95,1.06)">240</text>
<line x1="313.3" y1="184.10" x2="318.3" y2="184.10" stroke="#111" stroke-width="1.4"/>
<text x="0.00" y="0.00" font-size="9.5" text-anchor="end" fill="#111" transform="translate(311.30,187.80) scale(0.95,1.06)">360</text>
<line x1="341.50" y1="324.1" x2="341.50" y2="329.1" stroke="#111" stroke-width="1.4"/>
<line x1="388.45" y1="324.1" x2="388.45" y2="329.1" stroke="#111" stroke-width="1.4"/>
<line x1="326.40" y1="260.05" x2="356.60" y2="260.05" stroke="#5a5a5a" stroke-width="0.95"/>
<line x1="326.40" y1="263.77" x2="356.60" y2="263.77" stroke="#5a5a5a" stroke-width="0.95"/>
<line x1="326.40" y1="267.49" x2="356.60" y2="267.49" stroke="#5a5a5a" stroke-width="0.95"/>
<line x1="326.40" y1="271.21" x2="356.60" y2="271.21" stroke="#5a5a5a" stroke-width="0.95"/>
<line x1="326.40" y1="274.93" x2="356.60" y2="274.93" stroke="#5a5a5a" stroke-width="0.95"/>
<line x1="326.40" y1="278.65" x2="356.60" y2="278.65" stroke="#5a5a5a" stroke-width="0.95"/>
<line x1="326.40" y1="282.37" x2="356.60" y2="282.37" stroke="#5a5a5a" stroke-width="0.95"/>
<line x1="326.40" y1="286.09" x2="356.60" y2="286.09" stroke="#5a5a5a" stroke-width="0.95"/>
<line x1="326.40" y1="289.81" x2="356.60" y2="289.81" stroke="#5a5a5a" stroke-width="0.95"/>
<line x1="326.40" y1="293.53" x2="356.60" y2="293.53" stroke="#5a5a5a" stroke-width="0.95"/>
<line x1="326.40" y1="297.25" x2="356.60" y2="297.25" stroke="#5a5a5a" stroke-width="0.95"/>
<line x1="326.40" y1="300.97" x2="356.60" y2="300.97" stroke="#5a5a5a" stroke-width="0.95"/>
<line x1="326.40" y1="304.69" x2="356.60" y2="304.69" stroke="#5a5a5a" stroke-width="0.95"/>
<line x1="326.40" y1="308.41" x2="356.60" y2="308.41" stroke="#5a5a5a" stroke-width="0.95"/>
<line x1="326.40" y1="312.13" x2="356.60" y2="312.13" stroke="#5a5a5a" stroke-width="0.95"/>
<line x1="326.40" y1="315.85" x2="356.60" y2="315.85" stroke="#5a5a5a" stroke-width="0.95"/>
<line x1="326.40" y1="319.57" x2="356.60" y2="319.57" stroke="#5a5a5a" stroke-width="0.95"/>
<rect x="326.40" y="256.60" width="30.20" height="67.50" fill="none" stroke="#111" stroke-width="1.4"/>
<line x1="341.50" y1="256.60" x2="341.50" y2="246.10" stroke="#111" stroke-width="1.4"/>
<line x1="334.10" y1="246.10" x2="349.00" y2="246.10" stroke="#111" stroke-width="1.5"/>
<line x1="377.09" y1="191.30" x2="377.09" y2="324.10" stroke="#3a3aff" stroke-width="1.0"/>
<line x1="380.88" y1="191.30" x2="380.88" y2="324.10" stroke="#3a3aff" stroke-width="1.0"/>
<line x1="384.66" y1="191.30" x2="384.66" y2="324.10" stroke="#3a3aff" stroke-width="1.0"/>
<line x1="388.45" y1="191.30" x2="388.45" y2="324.10" stroke="#3a3aff" stroke-width="1.0"/>
<line x1="392.24" y1="191.30" x2="392.24" y2="324.10" stroke="#3a3aff" stroke-width="1.0"/>
<line x1="396.03" y1="191.30" x2="396.03" y2="324.10" stroke="#3a3aff" stroke-width="1.0"/>
<line x1="399.81" y1="191.30" x2="399.81" y2="324.10" stroke="#3a3aff" stroke-width="1.0"/>
<rect x="373.30" y="191.30" width="30.30" height="132.80" fill="none" stroke="#1a1aff" stroke-width="1.4"/>
<line x1="388.45" y1="191.30" x2="388.45" y2="187.80" stroke="#1a1aff" stroke-width="1.4"/>
<line x1="380.40" y1="187.80" x2="395.80" y2="187.80" stroke="#1a1aff" stroke-width="1.5"/>
<line x1="318.3" y1="324.1" x2="412.0" y2="324.1" stroke="#111" stroke-width="1.5"/>
<polyline points="341.50,184.20 341.50,177.60 388.45,177.60 388.45,184.20" fill="none" stroke="#111" stroke-width="1.4"/>
<path d="M362.08,170.55 L362.08,174.25 M360.47,171.47 L363.68,173.33 M360.47,173.33 L363.68,171.47 " stroke="#4a4a4a" stroke-width="1.2" stroke-linecap="round" fill="none"/>
<path d="M367.28,170.55 L367.28,174.25 M365.67,171.47 L368.88,173.33 M365.67,173.33 L368.88,171.47 " stroke="#4a4a4a" stroke-width="1.2" stroke-linecap="round" fill="none"/>
<text x="0.00" y="0.00" font-size="9.6" text-anchor="middle" fill="#111" transform="translate(290.80,254.10) rotate(-90)" textLength="74.4" lengthAdjust="spacingAndGlyphs">IL-12p70 (pg/mL)</text>
<text x="0.00" y="0.00" font-size="8.5" text-anchor="end" fill="#111" transform="translate(343.60,338.60) rotate(-45)">Medium</text>
<text x="0.00" y="0.00" font-size="8.5" text-anchor="end" fill="#111" transform="translate(390.55,338.60) rotate(-45)">Riboflavin</text>
<polyline points="453.4,184.1 453.4,323.8 545.6,323.8" fill="none" stroke="#111" stroke-width="1.5"/>
<line x1="448.4" y1="323.80" x2="453.4" y2="323.80" stroke="#111" stroke-width="1.4"/>
<text x="0.00" y="0.00" font-size="9.5" text-anchor="end" fill="#111" transform="translate(446.40,327.50) scale(0.95,1.06)">0</text>
<line x1="448.4" y1="277.23" x2="453.4" y2="277.23" stroke="#111" stroke-width="1.4"/>
<text x="0.00" y="0.00" font-size="9.5" text-anchor="end" fill="#111" transform="translate(446.40,280.93) scale(0.95,1.06)">37</text>
<line x1="448.4" y1="230.67" x2="453.4" y2="230.67" stroke="#111" stroke-width="1.4"/>
<text x="0.00" y="0.00" font-size="9.5" text-anchor="end" fill="#111" transform="translate(446.40,234.37) scale(0.95,1.06)">74</text>
<line x1="448.4" y1="184.10" x2="453.4" y2="184.10" stroke="#111" stroke-width="1.4"/>
<text x="0.00" y="0.00" font-size="9.5" text-anchor="end" fill="#111" transform="translate(446.40,187.80) scale(0.95,1.06)">111</text>
<line x1="476.55" y1="323.8" x2="476.55" y2="328.8" stroke="#111" stroke-width="1.4"/>
<line x1="523.60" y1="323.8" x2="523.60" y2="328.8" stroke="#111" stroke-width="1.4"/>
<line x1="461.50" y1="270.95" x2="491.60" y2="270.95" stroke="#5a5a5a" stroke-width="0.95"/>
<line x1="461.50" y1="274.67" x2="491.60" y2="274.67" stroke="#5a5a5a" stroke-width="0.95"/>
<line x1="461.50" y1="278.39" x2="491.60" y2="278.39" stroke="#5a5a5a" stroke-width="0.95"/>
<line x1="461.50" y1="282.11" x2="491.60" y2="282.11" stroke="#5a5a5a" stroke-width="0.95"/>
<line x1="461.50" y1="285.83" x2="491.60" y2="285.83" stroke="#5a5a5a" stroke-width="0.95"/>
<line x1="461.50" y1="289.55" x2="491.60" y2="289.55" stroke="#5a5a5a" stroke-width="0.95"/>
<line x1="461.50" y1="293.27" x2="491.60" y2="293.27" stroke="#5a5a5a" stroke-width="0.95"/>
<line x1="461.50" y1="296.99" x2="491.60" y2="296.99" stroke="#5a5a5a" stroke-width="0.95"/>
<line x1="461.50" y1="300.71" x2="491.60" y2="300.71" stroke="#5a5a5a" stroke-width="0.95"/>
<line x1="461.50" y1="304.43" x2="491.60" y2="304.43" stroke="#5a5a5a" stroke-width="0.95"/>
<line x1="461.50" y1="308.15" x2="491.60" y2="308.15" stroke="#5a5a5a" stroke-width="0.95"/>
<line x1="461.50" y1="311.87" x2="491.60" y2="311.87" stroke="#5a5a5a" stroke-width="0.95"/>
<line x1="461.50" y1="315.59" x2="491.60" y2="315.59" stroke="#5a5a5a" stroke-width="0.95"/>
<line x1="461.50" y1="319.31" x2="491.60" y2="319.31" stroke="#5a5a5a" stroke-width="0.95"/>
<rect x="461.50" y="267.50" width="30.10" height="56.30" fill="none" stroke="#111" stroke-width="1.4"/>
<line x1="476.55" y1="267.50" x2="476.55" y2="263.20" stroke="#111" stroke-width="1.4"/>
<line x1="469.10" y1="263.20" x2="484.00" y2="263.20" stroke="#111" stroke-width="1.5"/>
<line x1="512.35" y1="194.70" x2="512.35" y2="323.80" stroke="#3a3aff" stroke-width="1.0"/>
<line x1="516.10" y1="194.70" x2="516.10" y2="323.80" stroke="#3a3aff" stroke-width="1.0"/>
<line x1="519.85" y1="194.70" x2="519.85" y2="323.80" stroke="#3a3aff" stroke-width="1.0"/>
<line x1="523.60" y1="194.70" x2="523.60" y2="323.80" stroke="#3a3aff" stroke-width="1.0"/>
<line x1="527.35" y1="194.70" x2="527.35" y2="323.80" stroke="#3a3aff" stroke-width="1.0"/>
<line x1="531.10" y1="194.70" x2="531.10" y2="323.80" stroke="#3a3aff" stroke-width="1.0"/>
<line x1="534.85" y1="194.70" x2="534.85" y2="323.80" stroke="#3a3aff" stroke-width="1.0"/>
<rect x="508.60" y="194.70" width="30.00" height="129.10" fill="none" stroke="#1a1aff" stroke-width="1.4"/>
<line x1="523.60" y1="194.70" x2="523.60" y2="191.30" stroke="#1a1aff" stroke-width="1.4"/>
<line x1="515.40" y1="191.30" x2="530.70" y2="191.30" stroke="#1a1aff" stroke-width="1.5"/>
<line x1="453.4" y1="323.8" x2="545.6" y2="323.8" stroke="#111" stroke-width="1.5"/>
<polyline points="476.55,188.20 476.55,181.60 523.60,181.60 523.60,188.20" fill="none" stroke="#111" stroke-width="1.4"/>
<path d="M497.18,174.55 L497.18,178.25 M495.57,175.47 L498.78,177.33 M495.57,177.33 L498.78,175.47 " stroke="#4a4a4a" stroke-width="1.2" stroke-linecap="round" fill="none"/>
<path d="M502.38,174.55 L502.38,178.25 M500.77,175.47 L503.98,177.33 M500.77,177.33 L503.98,175.47 " stroke="#4a4a4a" stroke-width="1.2" stroke-linecap="round" fill="none"/>
<text x="0.00" y="0.00" font-size="9.6" text-anchor="middle" fill="#111" transform="translate(427.90,254.30) rotate(-90)" textLength="58.3" lengthAdjust="spacingAndGlyphs">IL-10 (pg/mL)</text>
<text x="0.00" y="0.00" font-size="8.5" text-anchor="end" fill="#111" transform="translate(478.65,338.30) rotate(-45)">Medium</text>
<text x="0.00" y="0.00" font-size="8.5" text-anchor="end" fill="#111" transform="translate(525.70,338.30) rotate(-45)">Riboflavin</text>
</g>
</svg>
</body></html>
